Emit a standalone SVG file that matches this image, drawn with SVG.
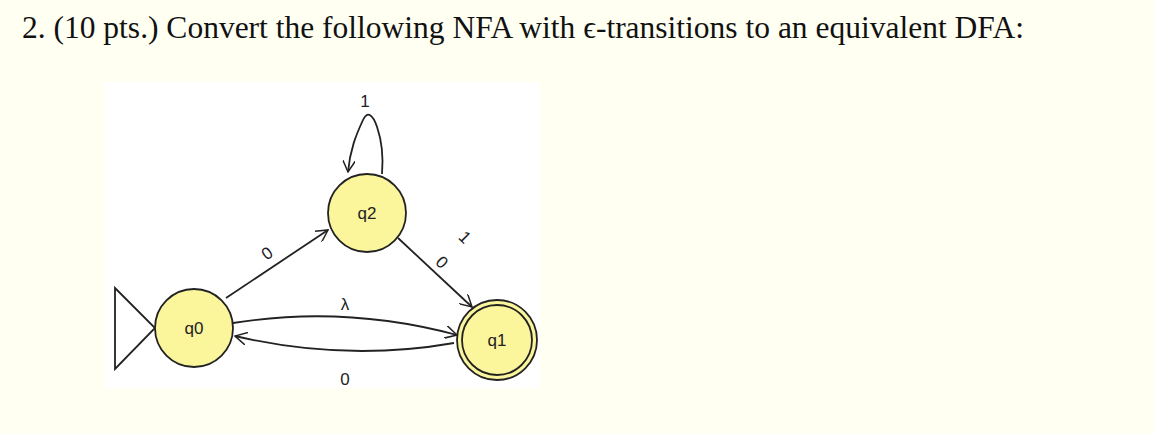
<svg xmlns="http://www.w3.org/2000/svg" width="1154" height="434" viewBox="0 0 1154 434">
<style>
.st{fill:#fbf59c;stroke:#222;stroke-width:1.8}
.e{fill:none;stroke:#222;stroke-width:1.8}
.l{font-family:"Liberation Sans",sans-serif;font-size:17px;fill:#222;text-anchor:middle}
</style>
<defs><marker id="a" viewBox="0 0 12 12" refX="11" refY="6" markerWidth="13" markerHeight="13" markerUnits="userSpaceOnUse" orient="auto"><path d="M0,0 L11,6 L0,12" fill="none" stroke="#222" stroke-width="1.4"/></marker></defs>
<rect width="1154" height="434" fill="#fffff2"/>
<text x="22" y="38" font-family="Liberation Serif,serif" font-size="31.5" fill="#111">2. (10 pts.) Convert the following NFA with ϵ-transitions to an equivalent DFA:</text>
<rect x="105" y="82" width="435" height="306" fill="#ffffff"/>
<g id="connectors">
<path class="e" d="M115,288 L155,328 L115,369 Z"/>
<path class="e" d="M382,174 C385,140 372,100 363,120 C356,135 350,150 348,172" marker-end="url(#a)"/>
<path class="e" d="M226,298 L328,230" marker-end="url(#a)"/>
<path class="e" d="M398,238 L472,307" marker-end="url(#a)"/>
<path class="e" d="M233,323 Q345,305 457,335" marker-end="url(#a)"/>
<path class="e" d="M454,343 Q345,362 235,336" marker-end="url(#a)"/>
</g>
<g id="labels">
<text class="l" x="365" y="107">1</text>
<text class="l" transform="translate(267,253) rotate(-35)" y="6">0</text>
<text class="l" transform="translate(442,262) rotate(45)" y="6">0</text>
<text class="l" transform="translate(465,237) rotate(45)" y="6">1</text>
<text class="l" x="345" y="310">λ</text>
<text class="l" x="345" y="385">0</text>
</g>
<g id="q0"><circle class="st" cx="194" cy="328" r="39"/><text class="l" x="194" y="334">q0</text></g>
<g id="q2"><circle class="st" cx="367" cy="213" r="39"/><text class="l" x="367" y="219">q2</text></g>
<g id="q1"><circle class="st" cx="497" cy="340" r="40"/><circle class="e" cx="497" cy="340" r="35"/><text class="l" x="497" y="346">q1</text></g>
</svg>
